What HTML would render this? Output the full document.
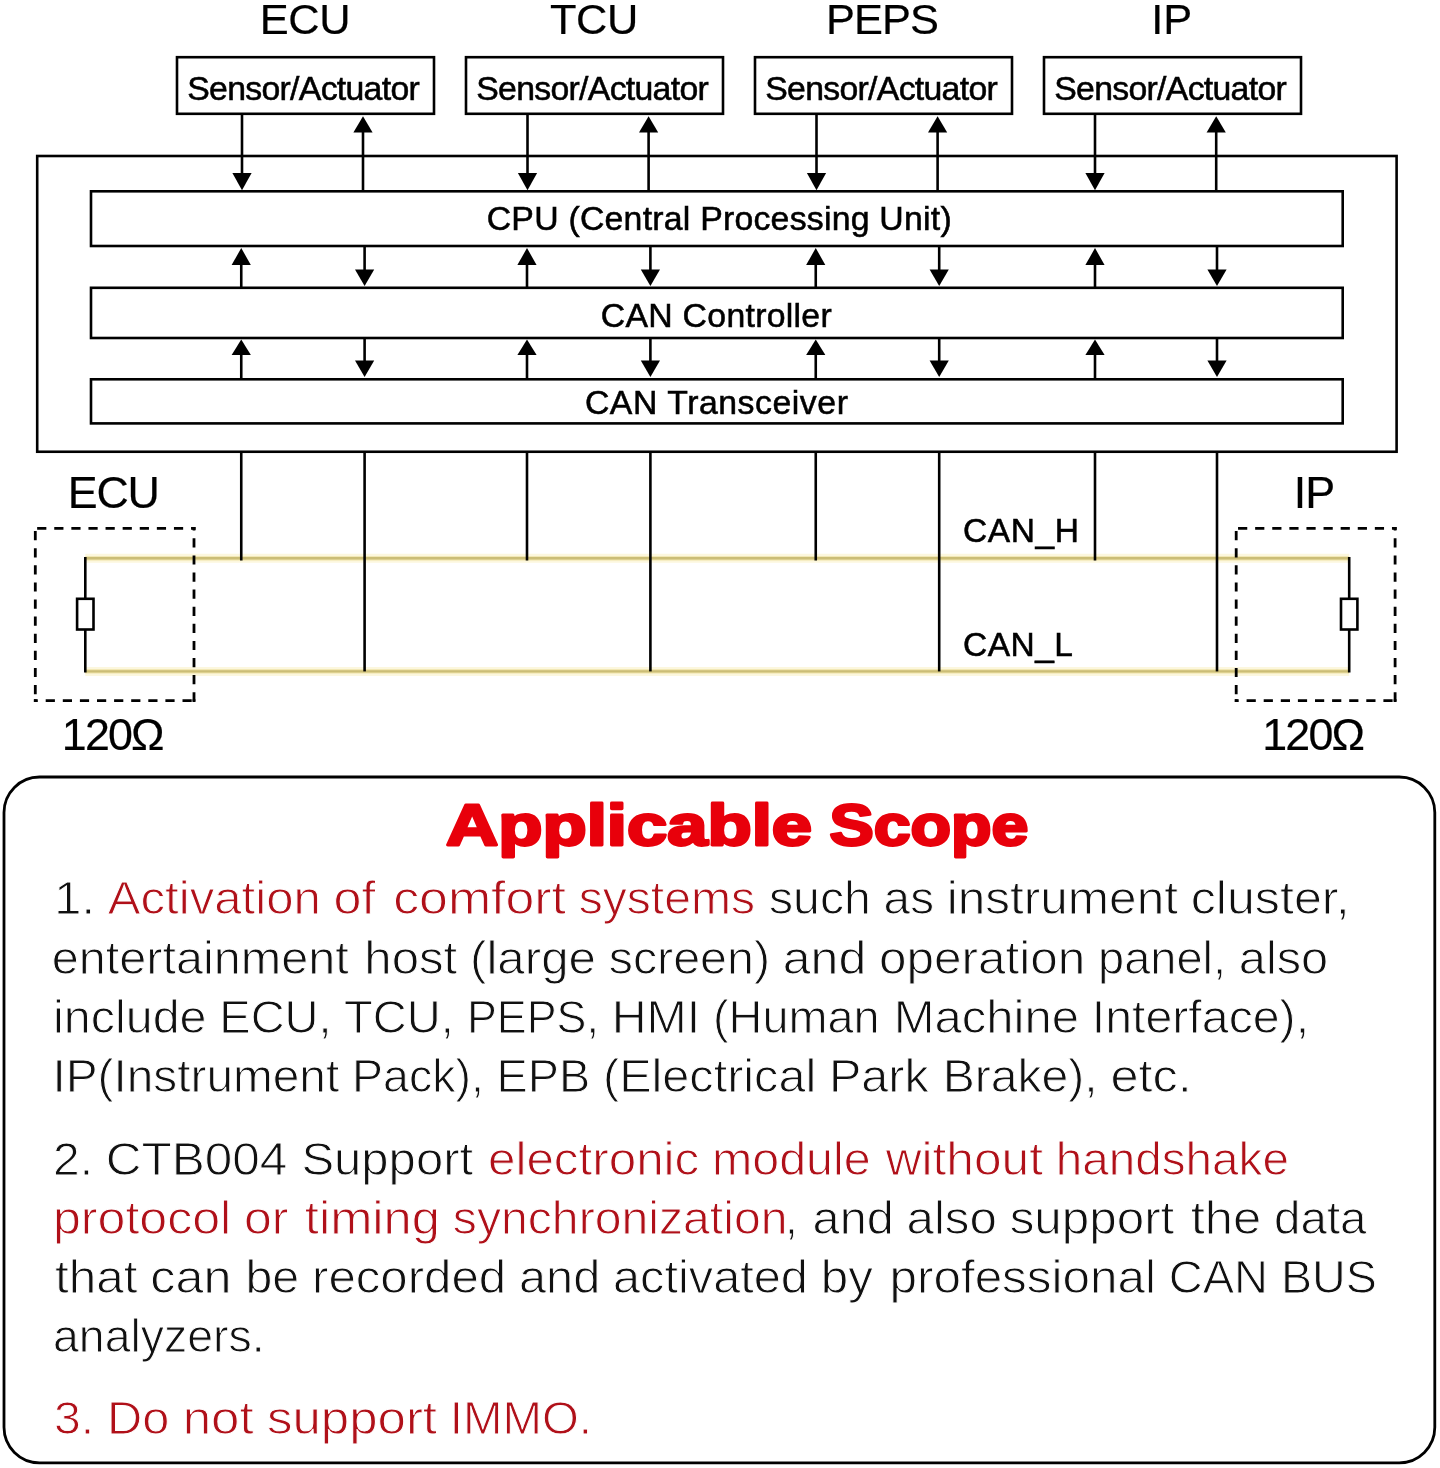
<!DOCTYPE html>
<html><head><meta charset="utf-8"><style>
html,body{margin:0;padding:0;background:#fff;overflow:hidden;width:1440px;height:1468px;}
svg{display:block;will-change:transform;}
.lb{stroke:#000;stroke-width:0.55px;}
.lb2{stroke:#000;stroke-width:0.2px;}
text{font-family:"Liberation Sans",sans-serif;}
</style></head><body>
<svg width="1440" height="1468" viewBox="0 0 1440 1468">
<rect width="1440" height="1468" fill="#fff"/>
<text x="305.2" y="34" font-size="43.4" text-anchor="middle" textLength="91" lengthAdjust="spacing" class="lb2">ECU</text>
<text x="594.2" y="34" font-size="43.4" text-anchor="middle" textLength="88.5" lengthAdjust="spacing" class="lb2">TCU</text>
<text x="882.5" y="34" font-size="43.4" text-anchor="middle" textLength="113" lengthAdjust="spacing" class="lb2">PEPS</text>
<text x="1171.8" y="34" font-size="43.4" text-anchor="middle" textLength="41" lengthAdjust="spacing" class="lb2">IP</text>
<rect x="177" y="57.2" width="257.00" height="56.60" fill="#fff" stroke="#000" stroke-width="2.6" />
<text x="303.5" y="99.6" font-size="33.8" text-anchor="middle" textLength="232.5" lengthAdjust="spacing" class="lb">Sensor/Actuator</text>
<rect x="466" y="57.2" width="257.00" height="56.60" fill="#fff" stroke="#000" stroke-width="2.6" />
<text x="592.5" y="99.6" font-size="33.8" text-anchor="middle" textLength="232.5" lengthAdjust="spacing" class="lb">Sensor/Actuator</text>
<rect x="755" y="57.2" width="257.00" height="56.60" fill="#fff" stroke="#000" stroke-width="2.6" />
<text x="881.5" y="99.6" font-size="33.8" text-anchor="middle" textLength="232.5" lengthAdjust="spacing" class="lb">Sensor/Actuator</text>
<rect x="1044" y="57.2" width="257.00" height="56.60" fill="#fff" stroke="#000" stroke-width="2.6" />
<text x="1170.5" y="99.6" font-size="33.8" text-anchor="middle" textLength="232.5" lengthAdjust="spacing" class="lb">Sensor/Actuator</text>
<rect x="37.2" y="156" width="1359.40" height="295.75" fill="#fff" stroke="#000" stroke-width="2.6" />
<rect x="91" y="191.3" width="1251.70" height="54.70" fill="#fff" stroke="#000" stroke-width="2.6" />
<rect x="91" y="287.8" width="1251.70" height="50.20" fill="#fff" stroke="#000" stroke-width="2.6" />
<rect x="91" y="379.3" width="1251.70" height="44.10" fill="#fff" stroke="#000" stroke-width="2.6" />
<text x="719.2" y="230.2" font-size="33.8" text-anchor="middle" textLength="465" lengthAdjust="spacing" class="lb">CPU (Central Processing Unit)</text>
<text x="716.2" y="326.9" font-size="33.8" text-anchor="middle" textLength="231" lengthAdjust="spacing" class="lb">CAN Controller</text>
<text x="716.4" y="413.5" font-size="33.8" text-anchor="middle" textLength="263" lengthAdjust="spacing" class="lb">CAN Transceiver</text>
<line x1="85.3" y1="558.3" x2="1349.2" y2="558.3" stroke="#fcf7de" stroke-width="9"/>
<line x1="85.3" y1="558.3" x2="1349.2" y2="558.3" stroke="#efe3a8" stroke-width="4.2"/>
<line x1="85.3" y1="558.3" x2="1349.2" y2="558.3" stroke="#cbbd76" stroke-width="2.4"/>
<line x1="85.3" y1="671.4" x2="1349.2" y2="671.4" stroke="#fcf7de" stroke-width="9"/>
<line x1="85.3" y1="671.4" x2="1349.2" y2="671.4" stroke="#efe3a8" stroke-width="4.2"/>
<line x1="85.3" y1="671.4" x2="1349.2" y2="671.4" stroke="#cbbd76" stroke-width="2.4"/>
<line x1="242" y1="113.8" x2="242" y2="175" stroke="#000" stroke-width="2.6"/>
<polygon points="232.40,173 251.60,173 242,190.3" fill="#000"/>
<line x1="363" y1="191.3" x2="363" y2="130" stroke="#000" stroke-width="2.6"/>
<polygon points="353.40,132.4 372.60,132.4 363,116.2" fill="#000"/>
<line x1="527.5" y1="113.8" x2="527.5" y2="175" stroke="#000" stroke-width="2.6"/>
<polygon points="517.90,173 537.10,173 527.5,190.3" fill="#000"/>
<line x1="648.6" y1="191.3" x2="648.6" y2="130" stroke="#000" stroke-width="2.6"/>
<polygon points="639.00,132.4 658.20,132.4 648.6,116.2" fill="#000"/>
<line x1="816.5" y1="113.8" x2="816.5" y2="175" stroke="#000" stroke-width="2.6"/>
<polygon points="806.90,173 826.10,173 816.5,190.3" fill="#000"/>
<line x1="937.6" y1="191.3" x2="937.6" y2="130" stroke="#000" stroke-width="2.6"/>
<polygon points="928.00,132.4 947.20,132.4 937.6,116.2" fill="#000"/>
<line x1="1095" y1="113.8" x2="1095" y2="175" stroke="#000" stroke-width="2.6"/>
<polygon points="1085.40,173 1104.60,173 1095,190.3" fill="#000"/>
<line x1="1216.2" y1="191.3" x2="1216.2" y2="130" stroke="#000" stroke-width="2.6"/>
<polygon points="1206.60,132.4 1225.80,132.4 1216.2,116.2" fill="#000"/>
<line x1="241.25" y1="287.8" x2="241.25" y2="262" stroke="#000" stroke-width="2.6"/>
<polygon points="231.65,265 250.85,265 241.25,248" fill="#000"/>
<line x1="364.6" y1="246" x2="364.6" y2="272" stroke="#000" stroke-width="2.6"/>
<polygon points="355.00,269.5 374.20,269.5 364.6,286" fill="#000"/>
<line x1="241.25" y1="379.3" x2="241.25" y2="352" stroke="#000" stroke-width="2.6"/>
<polygon points="231.65,355 250.85,355 241.25,339.5" fill="#000"/>
<line x1="364.6" y1="338" x2="364.6" y2="363" stroke="#000" stroke-width="2.6"/>
<polygon points="355.00,360.6 374.20,360.6 364.6,377" fill="#000"/>
<line x1="241.25" y1="451.75" x2="241.25" y2="560.5" stroke="#000" stroke-width="2.6"/>
<line x1="364.6" y1="451.75" x2="364.6" y2="671.4" stroke="#000" stroke-width="2.6"/>
<line x1="527" y1="287.8" x2="527" y2="262" stroke="#000" stroke-width="2.6"/>
<polygon points="517.40,265 536.60,265 527,248" fill="#000"/>
<line x1="650.4" y1="246" x2="650.4" y2="272" stroke="#000" stroke-width="2.6"/>
<polygon points="640.80,269.5 660.00,269.5 650.4,286" fill="#000"/>
<line x1="527" y1="379.3" x2="527" y2="352" stroke="#000" stroke-width="2.6"/>
<polygon points="517.40,355 536.60,355 527,339.5" fill="#000"/>
<line x1="650.4" y1="338" x2="650.4" y2="363" stroke="#000" stroke-width="2.6"/>
<polygon points="640.80,360.6 660.00,360.6 650.4,377" fill="#000"/>
<line x1="527" y1="451.75" x2="527" y2="560.5" stroke="#000" stroke-width="2.6"/>
<line x1="650.4" y1="451.75" x2="650.4" y2="671.4" stroke="#000" stroke-width="2.6"/>
<line x1="815.75" y1="287.8" x2="815.75" y2="262" stroke="#000" stroke-width="2.6"/>
<polygon points="806.15,265 825.35,265 815.75,248" fill="#000"/>
<line x1="939.2" y1="246" x2="939.2" y2="272" stroke="#000" stroke-width="2.6"/>
<polygon points="929.60,269.5 948.80,269.5 939.2,286" fill="#000"/>
<line x1="815.75" y1="379.3" x2="815.75" y2="352" stroke="#000" stroke-width="2.6"/>
<polygon points="806.15,355 825.35,355 815.75,339.5" fill="#000"/>
<line x1="939.2" y1="338" x2="939.2" y2="363" stroke="#000" stroke-width="2.6"/>
<polygon points="929.60,360.6 948.80,360.6 939.2,377" fill="#000"/>
<line x1="815.75" y1="451.75" x2="815.75" y2="560.5" stroke="#000" stroke-width="2.6"/>
<line x1="939.2" y1="451.75" x2="939.2" y2="671.4" stroke="#000" stroke-width="2.6"/>
<line x1="1095" y1="287.8" x2="1095" y2="262" stroke="#000" stroke-width="2.6"/>
<polygon points="1085.40,265 1104.60,265 1095,248" fill="#000"/>
<line x1="1217" y1="246" x2="1217" y2="272" stroke="#000" stroke-width="2.6"/>
<polygon points="1207.40,269.5 1226.60,269.5 1217,286" fill="#000"/>
<line x1="1095" y1="379.3" x2="1095" y2="352" stroke="#000" stroke-width="2.6"/>
<polygon points="1085.40,355 1104.60,355 1095,339.5" fill="#000"/>
<line x1="1217" y1="338" x2="1217" y2="363" stroke="#000" stroke-width="2.6"/>
<polygon points="1207.40,360.6 1226.60,360.6 1217,377" fill="#000"/>
<line x1="1095" y1="451.75" x2="1095" y2="560.5" stroke="#000" stroke-width="2.6"/>
<line x1="1217" y1="451.75" x2="1217" y2="671.4" stroke="#000" stroke-width="2.6"/>
<line x1="33.9" y1="528.45" x2="195.4" y2="528.45" stroke="#000" stroke-width="2.8" stroke-dasharray="9.2 7.9" fill="none" stroke-dashoffset="-3.25"/>
<line x1="35.3" y1="527.0500000000001" x2="35.3" y2="702.0" stroke="#000" stroke-width="2.8" stroke-dasharray="9.2 7.9" fill="none" stroke-dashoffset="-4.05"/>
<line x1="194" y1="527.0500000000001" x2="194" y2="702.0" stroke="#000" stroke-width="2.8" stroke-dasharray="9.2 7.9" fill="none" stroke-dashoffset="-11.25"/>
<line x1="33.9" y1="700.6" x2="195.4" y2="700.6" stroke="#000" stroke-width="2.8" stroke-dasharray="9.2 7.9" fill="none" stroke-dashoffset="-11.8"/>
<rect x="192.6" y="527.0500000000001" width="2.8" height="2.8" fill="#000"/>
<rect x="33.9" y="699.2" width="2.8" height="2.8" fill="#000"/>
<rect x="192.6" y="699.2" width="2.8" height="2.8" fill="#000"/>
<line x1="1234.8" y1="528.45" x2="1396.5" y2="528.45" stroke="#000" stroke-width="2.8" stroke-dasharray="9.2 7.9" fill="none" stroke-dashoffset="-3.25"/>
<line x1="1236.2" y1="527.0500000000001" x2="1236.2" y2="702.0" stroke="#000" stroke-width="2.8" stroke-dasharray="9.2 7.9" fill="none" stroke-dashoffset="-4.05"/>
<line x1="1395.1" y1="527.0500000000001" x2="1395.1" y2="702.0" stroke="#000" stroke-width="2.8" stroke-dasharray="9.2 7.9" fill="none" stroke-dashoffset="-11.25"/>
<line x1="1234.8" y1="700.6" x2="1396.5" y2="700.6" stroke="#000" stroke-width="2.8" stroke-dasharray="9.2 7.9" fill="none" stroke-dashoffset="-11.8"/>
<rect x="1393.6999999999998" y="527.0500000000001" width="2.8" height="2.8" fill="#000"/>
<rect x="1234.8" y="699.2" width="2.8" height="2.8" fill="#000"/>
<rect x="1393.6999999999998" y="699.2" width="2.8" height="2.8" fill="#000"/>
<line x1="85.3" y1="557" x2="85.3" y2="672.5" stroke="#000" stroke-width="2.6"/>
<rect x="77.1" y="598.8" width="16.40" height="30.70" fill="#fff" stroke="#000" stroke-width="2.6" />
<line x1="1349.2" y1="557" x2="1349.2" y2="672.5" stroke="#000" stroke-width="2.6"/>
<rect x="1341.0" y="598.8" width="16.40" height="30.70" fill="#fff" stroke="#000" stroke-width="2.6" />
<text x="113.8" y="508.3" font-size="44.8" text-anchor="middle" textLength="92" lengthAdjust="spacing" class="lb2">ECU</text>
<text x="1314.4" y="507.8" font-size="44.8" text-anchor="middle" textLength="41.5" lengthAdjust="spacing" class="lb2">IP</text>
<text x="113.2" y="750" font-size="44.8" text-anchor="middle" textLength="102.7" lengthAdjust="spacing" class="lb2">120Ω</text>
<text x="1313.6" y="749.6" font-size="44.8" text-anchor="middle" textLength="102.7" lengthAdjust="spacing" class="lb2">120Ω</text>
<text x="963" y="542.2" font-size="33.5" text-anchor="start" textLength="116" lengthAdjust="spacing" class="lb">CAN_H</text>
<text x="963" y="655.8" font-size="33.5" text-anchor="start" textLength="110" lengthAdjust="spacing" class="lb">CAN_L</text>
<rect x="4" y="777" width="1430.8" height="685.8" rx="35.5" ry="35.5" fill="none" stroke="#000" stroke-width="2.8"/>
<text x="446" y="845" font-size="57.5" font-weight="bold" fill="#e8000b" stroke="#e8000b" stroke-width="2.8" stroke-linejoin="round" textLength="366" lengthAdjust="spacingAndGlyphs">Applicable</text><text x="829.5" y="845" font-size="57.5" font-weight="bold" fill="#e8000b" stroke="#e8000b" stroke-width="2.8" stroke-linejoin="round" textLength="199" lengthAdjust="spacingAndGlyphs">Scope</text>
<text x="54.30" y="914.0" font-size="46" fill="#111" class="body" textLength="40.67" lengthAdjust="spacingAndGlyphs" stroke="#fff" stroke-width="0.95" xml:space="preserve">1.</text>
<text x="107.75" y="914.0" font-size="46" fill="#b01019" class="body" textLength="213.07" lengthAdjust="spacingAndGlyphs" stroke="#fff" stroke-width="0.95" xml:space="preserve">Activation</text>
<text x="333.60" y="914.0" font-size="46" fill="#b01019" class="body" textLength="41.88" lengthAdjust="spacingAndGlyphs" stroke="#fff" stroke-width="0.95" xml:space="preserve">of</text>
<text x="393.20" y="914.0" font-size="46" fill="#b01019" class="body" textLength="172.82" lengthAdjust="spacingAndGlyphs" stroke="#fff" stroke-width="0.95" xml:space="preserve">comfort</text>
<text x="578.80" y="914.0" font-size="46" fill="#b01019" class="body" textLength="176.19" lengthAdjust="spacingAndGlyphs" stroke="#fff" stroke-width="0.95" xml:space="preserve">systems</text>
<text x="769.00" y="914.0" font-size="46" fill="#111" class="body" textLength="101.82" lengthAdjust="spacingAndGlyphs" stroke="#fff" stroke-width="0.95" xml:space="preserve">such</text>
<text x="883.60" y="914.0" font-size="46" fill="#111" class="body" textLength="50.42" lengthAdjust="spacingAndGlyphs" stroke="#fff" stroke-width="0.95" xml:space="preserve">as</text>
<text x="946.80" y="914.0" font-size="46" fill="#111" class="body" textLength="231.12" lengthAdjust="spacingAndGlyphs" stroke="#fff" stroke-width="0.95" xml:space="preserve">instrument</text>
<text x="1190.70" y="914.0" font-size="46" fill="#111" class="body" textLength="159.03" lengthAdjust="spacingAndGlyphs" stroke="#fff" stroke-width="0.95" xml:space="preserve">cluster,</text>
<text x="51.75" y="974.1" font-size="46" fill="#111" class="body" textLength="297.03" lengthAdjust="spacingAndGlyphs" stroke="#fff" stroke-width="0.95" xml:space="preserve">entertainment</text>
<text x="364.30" y="974.1" font-size="46" fill="#111" class="body" textLength="92.92" lengthAdjust="spacingAndGlyphs" stroke="#fff" stroke-width="0.95" xml:space="preserve">host</text>
<text x="470.00" y="974.1" font-size="46" fill="#111" class="body" textLength="125.92" lengthAdjust="spacingAndGlyphs" stroke="#fff" stroke-width="0.95" xml:space="preserve">(large</text>
<text x="608.70" y="974.1" font-size="46" fill="#111" class="body" textLength="161.32" lengthAdjust="spacingAndGlyphs" stroke="#fff" stroke-width="0.95" xml:space="preserve">screen)</text>
<text x="782.80" y="974.1" font-size="46" fill="#111" class="body" textLength="83.42" lengthAdjust="spacingAndGlyphs" stroke="#fff" stroke-width="0.95" xml:space="preserve">and</text>
<text x="879.00" y="974.1" font-size="46" fill="#111" class="body" textLength="206.22" lengthAdjust="spacingAndGlyphs" stroke="#fff" stroke-width="0.95" xml:space="preserve">operation</text>
<text x="1098.00" y="974.1" font-size="46" fill="#111" class="body" textLength="128.02" lengthAdjust="spacingAndGlyphs" stroke="#fff" stroke-width="0.95" xml:space="preserve">panel,</text>
<text x="1238.80" y="974.1" font-size="46" fill="#111" class="body" textLength="89.39" lengthAdjust="spacingAndGlyphs" stroke="#fff" stroke-width="0.95" xml:space="preserve">also</text>
<text x="53.00" y="1032.5" font-size="46" fill="#111" class="body" textLength="153.52" lengthAdjust="spacingAndGlyphs" stroke="#fff" stroke-width="0.95" xml:space="preserve">include</text>
<text x="219.30" y="1032.5" font-size="46" fill="#111" class="body" textLength="112.31" lengthAdjust="spacingAndGlyphs" stroke="#fff" stroke-width="0.95" xml:space="preserve">ECU,</text>
<text x="344.00" y="1032.5" font-size="46" fill="#111" class="body" textLength="109.73" lengthAdjust="spacingAndGlyphs" stroke="#fff" stroke-width="0.95" xml:space="preserve">TCU,</text>
<text x="467.00" y="1032.5" font-size="46" fill="#111" class="body" textLength="131.92" lengthAdjust="spacingAndGlyphs" stroke="#fff" stroke-width="0.95" xml:space="preserve">PEPS,</text>
<text x="611.70" y="1032.5" font-size="46" fill="#111" class="body" textLength="88.52" lengthAdjust="spacingAndGlyphs" stroke="#fff" stroke-width="0.95" xml:space="preserve">HMI</text>
<text x="713.00" y="1032.5" font-size="46" fill="#111" class="body" textLength="166.61" lengthAdjust="spacingAndGlyphs" stroke="#fff" stroke-width="0.95" xml:space="preserve">(Human</text>
<text x="893.80" y="1032.5" font-size="46" fill="#111" class="body" textLength="185.22" lengthAdjust="spacingAndGlyphs" stroke="#fff" stroke-width="0.95" xml:space="preserve">Machine</text>
<text x="1091.80" y="1032.5" font-size="46" fill="#111" class="body" textLength="217.29" lengthAdjust="spacingAndGlyphs" stroke="#fff" stroke-width="0.95" xml:space="preserve">Interface),</text>
<text x="52.40" y="1092.3" font-size="46" fill="#111" class="body" textLength="286.82" lengthAdjust="spacingAndGlyphs" stroke="#fff" stroke-width="0.95" xml:space="preserve">IP(Instrument</text>
<text x="352.00" y="1092.3" font-size="46" fill="#111" class="body" textLength="131.82" lengthAdjust="spacingAndGlyphs" stroke="#fff" stroke-width="0.95" xml:space="preserve">Pack),</text>
<text x="496.60" y="1092.3" font-size="46" fill="#111" class="body" textLength="93.62" lengthAdjust="spacingAndGlyphs" stroke="#fff" stroke-width="0.95" xml:space="preserve">EPB</text>
<text x="603.00" y="1092.3" font-size="46" fill="#111" class="body" textLength="213.22" lengthAdjust="spacingAndGlyphs" stroke="#fff" stroke-width="0.95" xml:space="preserve">(Electrical</text>
<text x="829.00" y="1092.3" font-size="46" fill="#111" class="body" textLength="99.79" lengthAdjust="spacingAndGlyphs" stroke="#fff" stroke-width="0.95" xml:space="preserve">Park</text>
<text x="942.70" y="1092.3" font-size="46" fill="#111" class="body" textLength="155.02" lengthAdjust="spacingAndGlyphs" stroke="#fff" stroke-width="0.95" xml:space="preserve">Brake),</text>
<text x="1110.50" y="1092.3" font-size="46" fill="#111" class="body" textLength="81.36" lengthAdjust="spacingAndGlyphs" stroke="#fff" stroke-width="0.95" xml:space="preserve">etc.</text>
<text x="53.00" y="1175.2" font-size="46" fill="#111" class="body" textLength="39.97" lengthAdjust="spacingAndGlyphs" stroke="#fff" stroke-width="0.95" xml:space="preserve">2.</text>
<text x="105.75" y="1175.2" font-size="46" fill="#111" class="body" textLength="181.60" lengthAdjust="spacingAndGlyphs" stroke="#fff" stroke-width="0.95" xml:space="preserve">CTB004</text>
<text x="301.40" y="1175.2" font-size="46" fill="#111" class="body" textLength="171.73" lengthAdjust="spacingAndGlyphs" stroke="#fff" stroke-width="0.95" xml:space="preserve">Support</text>
<text x="488.00" y="1175.2" font-size="46" fill="#b01019" class="body" textLength="211.22" lengthAdjust="spacingAndGlyphs" stroke="#fff" stroke-width="0.95" xml:space="preserve">electronic</text>
<text x="712.00" y="1175.2" font-size="46" fill="#b01019" class="body" textLength="158.67" lengthAdjust="spacingAndGlyphs" stroke="#fff" stroke-width="0.95" xml:space="preserve">module</text>
<text x="885.70" y="1175.2" font-size="46" fill="#b01019" class="body" textLength="157.32" lengthAdjust="spacingAndGlyphs" stroke="#fff" stroke-width="0.95" xml:space="preserve">without</text>
<text x="1055.80" y="1175.2" font-size="46" fill="#b01019" class="body" textLength="233.09" lengthAdjust="spacingAndGlyphs" stroke="#fff" stroke-width="0.95" xml:space="preserve">handshake</text>
<text x="53.00" y="1234.3" font-size="46" fill="#b01019" class="body" textLength="178.22" lengthAdjust="spacingAndGlyphs" stroke="#fff" stroke-width="0.95" xml:space="preserve">protocol</text>
<text x="244.00" y="1234.3" font-size="46" fill="#b01019" class="body" textLength="44.41" lengthAdjust="spacingAndGlyphs" stroke="#fff" stroke-width="0.95" xml:space="preserve">or</text>
<text x="304.80" y="1234.3" font-size="46" fill="#b01019" class="body" textLength="135.22" lengthAdjust="spacingAndGlyphs" stroke="#fff" stroke-width="0.95" xml:space="preserve">timing</text>
<text x="452.80" y="1234.3" font-size="46" fill="#b01019" class="body" textLength="334.72" lengthAdjust="spacingAndGlyphs" stroke="#fff" stroke-width="0.95" xml:space="preserve">synchronization</text>
<text x="785.00" y="1234.3" font-size="46" fill="#111" class="body" stroke="#fff" stroke-width="0.95" xml:space="preserve">,</text>
<text x="812.60" y="1234.3" font-size="46" fill="#111" class="body" textLength="81.12" lengthAdjust="spacingAndGlyphs" stroke="#fff" stroke-width="0.95" xml:space="preserve">and</text>
<text x="906.50" y="1234.3" font-size="46" fill="#111" class="body" textLength="90.42" lengthAdjust="spacingAndGlyphs" stroke="#fff" stroke-width="0.95" xml:space="preserve">also</text>
<text x="1009.70" y="1234.3" font-size="46" fill="#111" class="body" textLength="164.64" lengthAdjust="spacingAndGlyphs" stroke="#fff" stroke-width="0.95" xml:space="preserve">support</text>
<text x="1190.70" y="1234.3" font-size="46" fill="#111" class="body" textLength="70.52" lengthAdjust="spacingAndGlyphs" stroke="#fff" stroke-width="0.95" xml:space="preserve">the</text>
<text x="1274.00" y="1234.3" font-size="46" fill="#111" class="body" textLength="92.53" lengthAdjust="spacingAndGlyphs" stroke="#fff" stroke-width="0.95" xml:space="preserve">data</text>
<text x="55.00" y="1293.4" font-size="46" fill="#111" class="body" textLength="82.52" lengthAdjust="spacingAndGlyphs" stroke="#fff" stroke-width="0.95" xml:space="preserve">that</text>
<text x="150.30" y="1293.4" font-size="46" fill="#111" class="body" textLength="81.17" lengthAdjust="spacingAndGlyphs" stroke="#fff" stroke-width="0.95" xml:space="preserve">can</text>
<text x="245.50" y="1293.4" font-size="46" fill="#111" class="body" textLength="53.72" lengthAdjust="spacingAndGlyphs" stroke="#fff" stroke-width="0.95" xml:space="preserve">be</text>
<text x="312.00" y="1293.4" font-size="46" fill="#111" class="body" textLength="194.22" lengthAdjust="spacingAndGlyphs" stroke="#fff" stroke-width="0.95" xml:space="preserve">recorded</text>
<text x="519.00" y="1293.4" font-size="46" fill="#111" class="body" textLength="81.22" lengthAdjust="spacingAndGlyphs" stroke="#fff" stroke-width="0.95" xml:space="preserve">and</text>
<text x="613.00" y="1293.4" font-size="46" fill="#111" class="body" textLength="194.97" lengthAdjust="spacingAndGlyphs" stroke="#fff" stroke-width="0.95" xml:space="preserve">activated</text>
<text x="820.75" y="1293.4" font-size="46" fill="#111" class="body" textLength="52.09" lengthAdjust="spacingAndGlyphs" stroke="#fff" stroke-width="0.95" xml:space="preserve">by</text>
<text x="889.50" y="1293.4" font-size="46" fill="#111" class="body" textLength="266.42" lengthAdjust="spacingAndGlyphs" stroke="#fff" stroke-width="0.95" xml:space="preserve">professional</text>
<text x="1168.70" y="1293.4" font-size="46" fill="#111" class="body" textLength="99.33" lengthAdjust="spacingAndGlyphs" stroke="#fff" stroke-width="0.95" xml:space="preserve">CAN</text>
<text x="1281.00" y="1293.4" font-size="46" fill="#111" class="body" textLength="95.89" lengthAdjust="spacingAndGlyphs" stroke="#fff" stroke-width="0.95" xml:space="preserve">BUS</text>
<text x="53.00" y="1352.4" font-size="46" fill="#111" class="body" textLength="211.66" lengthAdjust="spacingAndGlyphs" stroke="#fff" stroke-width="0.95" xml:space="preserve">analyzers.</text>
<text x="54.00" y="1433.5" font-size="46" fill="#b01019" class="body" textLength="40.22" lengthAdjust="spacingAndGlyphs" stroke="#fff" stroke-width="0.95" xml:space="preserve">3.</text>
<text x="107.00" y="1433.5" font-size="46" fill="#b01019" class="body" textLength="62.31" lengthAdjust="spacingAndGlyphs" stroke="#fff" stroke-width="0.95" xml:space="preserve">Do</text>
<text x="182.70" y="1433.5" font-size="46" fill="#b01019" class="body" textLength="70.95" lengthAdjust="spacingAndGlyphs" stroke="#fff" stroke-width="0.95" xml:space="preserve">not</text>
<text x="267.00" y="1433.5" font-size="46" fill="#b01019" class="body" textLength="170.02" lengthAdjust="spacingAndGlyphs" stroke="#fff" stroke-width="0.95" xml:space="preserve">support</text>
<text x="449.80" y="1433.5" font-size="46" fill="#b01019" class="body" textLength="142.18" lengthAdjust="spacingAndGlyphs" stroke="#fff" stroke-width="0.95" xml:space="preserve">IMMO.</text>
</svg></body></html>
